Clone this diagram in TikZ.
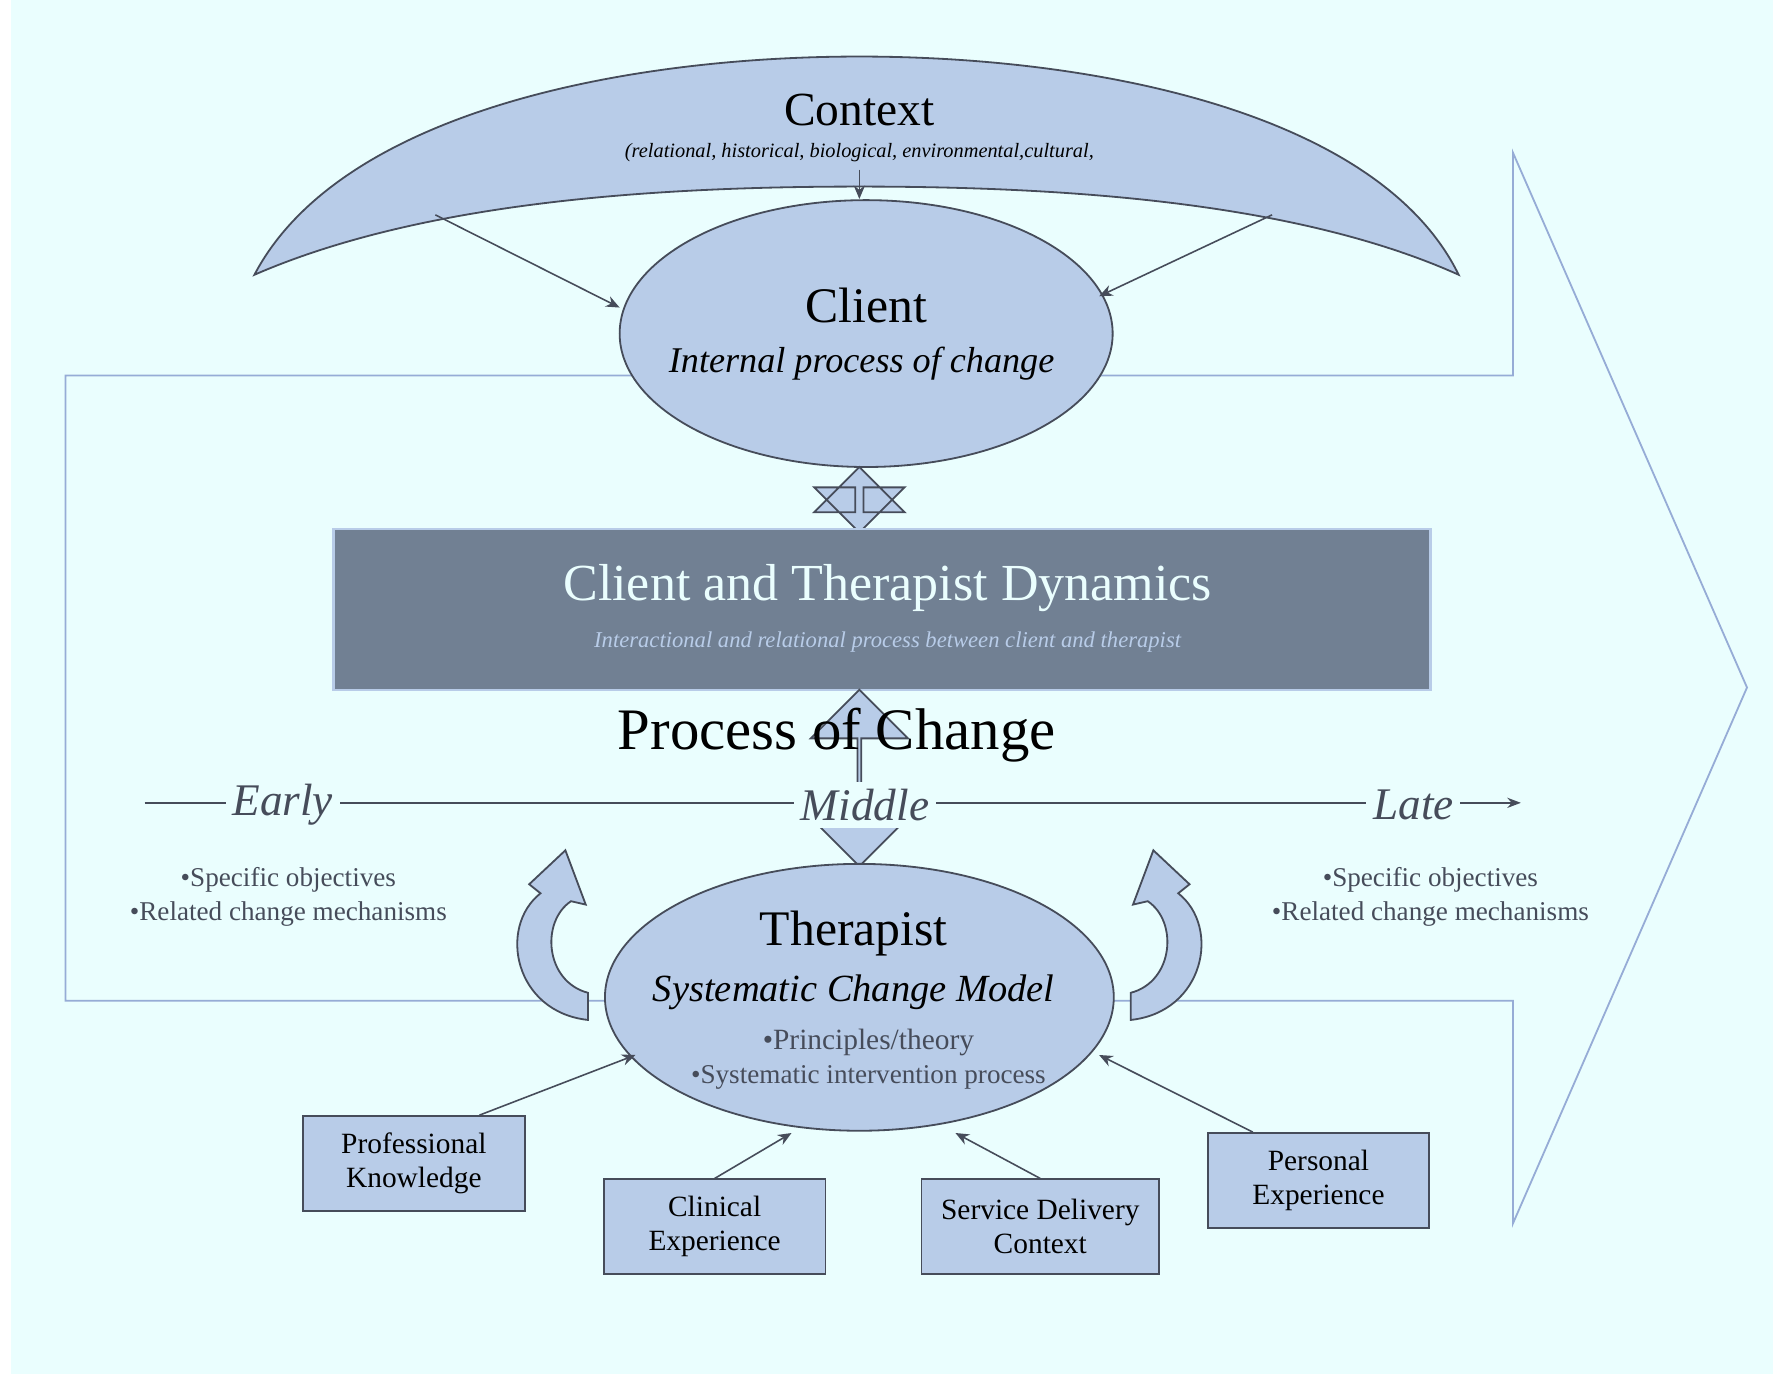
\documentclass[tikz,border=0pt]{standalone}
\usepackage{fontspec}
\setmainfont{Liberation Serif}
\usetikzlibrary{shapes.arrows,shapes.geometric,arrows.meta}
\definecolor{bg}{RGB}{234,254,254}
\definecolor{lb}{RGB}{184,204,232}
\definecolor{dk}{RGB}{70,76,90}
\definecolor{slate}{RGB}{113,128,147}
\definecolor{ol}{RGB}{150,172,214}
\tikzset{
 shp/.style={fill=lb,draw=dk,line width=0.8pt},
 box/.style={shp,minimum width=98pt,minimum height=42pt,align=center,font=\fontsize{13}{15}\selectfont,inner sep=1pt},
 con/.style={-{Stealth[length=6pt,width=5pt]},line width=0.7pt,draw=dk},
 tl/.style={fill=bg,inner sep=3pt,font=\fontsize{20}{22}\selectfont\itshape,text=dk},
 bul/.style={align=center,font=\fontsize{12}{15}\selectfont,text=dk}
}
\begin{document}
\begin{tikzpicture}[x=0.5pt,y=-0.5pt]
\useasboundingbox (0,0) rectangle (1568,1226);
\fill[white] (0,0) rectangle (1568,1226);
\fill[bg] (10,0) rectangle (1568,1215);
% big arrow outline
\draw[ol,line width=0.8pt] (58,332) -- (1338,332) -- (1338,135) -- (1545,608) -- (1338,1082) -- (1338,885) -- (58,885) -- cycle;
% context crescent
\path[shp] (225,243) .. controls (300,100) and (550,50) .. (760,50) .. controls (970,50) and (1220,100) .. (1290,243)
  .. controls (1150,180) and (950,165) .. (760,165) .. controls (570,165) and (370,180) .. (225,243) -- cycle;
\node (ctx) at (760,97) {\fontsize{21}{23}\selectfont Context};
\node (ctxs) at (760,135) {\fontsize{9}{11}\selectfont\itshape (relational, historical, biological, environmental,cultural,};
% client
\node[shp,ellipse,minimum width=218pt,minimum height=118pt] (client) at (766,295) {};
\node (clt) at (766,270) {\fontsize{22}{24}\selectfont Client};
\node (cls) at (762,322) {\fontsize{16}{18}\selectfont\itshape Internal process of change};
\coordinate (c1) at (385,190); \coordinate (c2) at (760,150); \coordinate (c3) at (1125,190);
\draw[con] (c1) -- (548,272);
\draw[con] (c2) -- (760,176);
\draw[con] (c3) -- (972,262);
% small double arrow
\node[shp,double arrow,rotate=90,minimum height=29pt,minimum width=40pt,double arrow head extend=4pt,inner sep=0pt,text width=18pt] (sda) at (760,442) {};
% dynamics
\node[fill=slate,draw=lb,line width=1pt,minimum width=485pt,minimum height=71pt] (dyn) at (780,539) {};
\node[text=bg] (dynt) at (785,520) {\fontsize{23}{25}\selectfont Client and Therapist Dynamics};
\node[text=lb] (dyns) at (785,568) {\fontsize{10}{12}\selectfont\itshape Interactional and relational process between client and therapist};
% big double arrow
\node[shp,double arrow,rotate=90,minimum height=78pt,minimum width=43pt,double arrow head extend=10pt,inner sep=0pt,text width=5pt] (bda) at (760,688) {};
% timeline
\draw[dk,line width=0.8pt,-{Stealth[length=6pt]}] (128,710) -- (1345,710);
\node[tl] (early) at (250,712) {Early};
\node[tl] (mid) at (765,712) {Middle};
\node[tl] (late) at (1250,712) {Late};
\node (poc) at (740,650) {\fontsize{26}{28}\selectfont Process of Change};
\node[bul] (bl) at (255,793) {•Specific objectives\\•Related change mechanisms};
\node[bul] (br) at (1265,793) {•Specific objectives\\•Related change mechanisms};
% curved arrows
\foreach \s in {1,-1}{
\begin{scope}[xshift={(1-\s)*760*0.5pt},xscale=\s]
\path[shp] (520,902) .. controls (455,895) and (440,820) .. (478,790) -- (468,782) -- (500,752) -- (518,800) -- (505,797)
  .. controls (478,815) and (482,868) .. (520,878) -- cycle;
\end{scope}}
% therapist
\node[shp,ellipse,minimum width=225pt,minimum height=118pt] (ther) at (760,882) {};
\node (tht) at (755,826) {\fontsize{22}{24}\selectfont Therapist};
\node (ths) at (755,878) {\fontsize{17}{19}\selectfont\itshape Systematic Change Model};
\node[bul] (thb) at (768,937) {\fontsize{13}{17}\selectfont •Principles/theory\\•Systematic intervention process};
% boxes
\node[box] (pk) at (366,1029) {Professional\\Knowledge};
\node[box] (ce) at (632,1085) {Clinical\\Experience};
\node[box,minimum width=105pt] (sd) at (920,1085) {Service Delivery\\Context};
\node[box] (pe) at (1166,1044) {Personal\\Experience};
\draw[con] (pk.north) ++(58,0) -- (562,933);
\draw[con] (ce.north) -- (700,1002);
\draw[con] (sd.north) -- (845,1002);
\draw[con] (pe.north) ++(-58,0) -- (972,933);
\end{tikzpicture}
\end{document}
